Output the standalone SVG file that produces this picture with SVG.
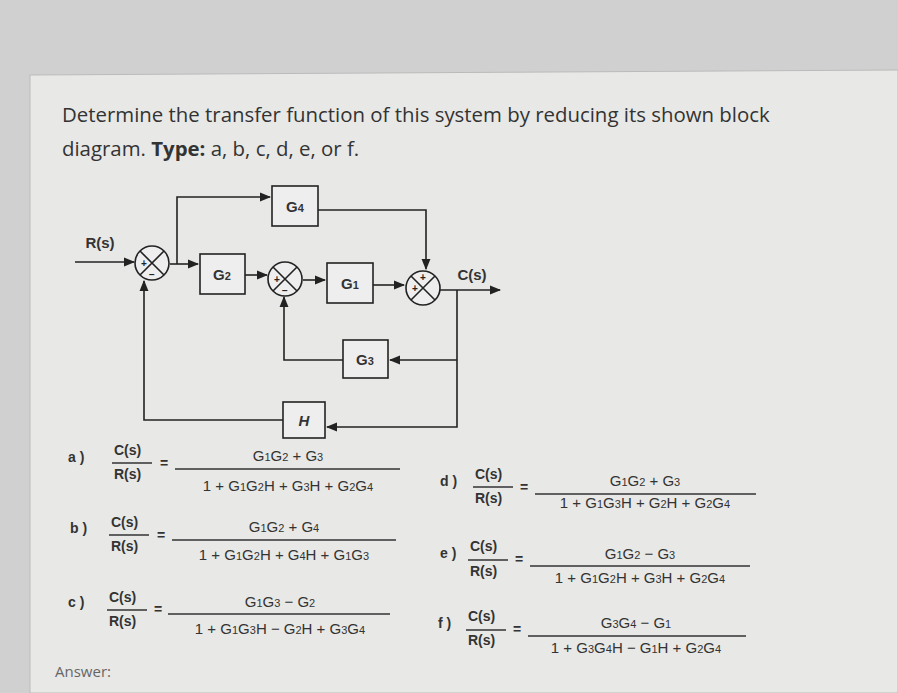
<svg xmlns="http://www.w3.org/2000/svg" width="898" height="693" viewBox="0 0 898 693">
<defs>
<marker id="ar" viewBox="0 0 10 10" refX="9" refY="5" markerWidth="7" markerHeight="7" orient="auto"><path d="M0,1 L10,5 L0,9 z" fill="#222"/></marker>
</defs>
<style>
.t{font-family:"Open Sans",sans-serif;font-size:20.4px;fill:#333}
.f{font-family:"Liberation Sans",Arial,sans-serif;font-size:14px;font-weight:bold;fill:#333}
.m{font-family:"Liberation Sans",Arial,sans-serif;font-size:15px;fill:#333;text-anchor:middle}
.s{font-size:11px}
.b{fill:#eee;stroke:#222;stroke-width:1.6}
.l{fill:none;stroke:#222;stroke-width:1.6}
.bl{font-family:"Liberation Sans",Arial,sans-serif;font-size:15px;font-weight:bold;fill:#333;text-anchor:middle}
.fb{stroke:#333;stroke-width:1.5}
.sg{font-family:"Liberation Sans",Arial,sans-serif;font-size:10px;font-weight:bold;fill:#222;text-anchor:middle}
</style>
<rect width="898" height="693" fill="#cfd0cf"/>
<path d="M30,75 L898,70 L898,693 L30,693 z" fill="#e8e8e6" stroke="#bbb"/>
<text class="t" x="62" y="122">Determine the transfer function of this system by reducing its shown block</text>
<text class="t" x="62" y="156">diagram. <tspan font-weight="bold">Type:</tspan> a, b, c, d, e, or f.</text>

<g id="connectors">
<path class="l" d="M75,262 H134" marker-end="url(#ar)"/>
<path class="l" d="M170,264 H198" marker-end="url(#ar)"/>
<path class="l" d="M177,264 V197 H270" marker-end="url(#ar)"/>
<path class="l" d="M318,210 H426 V269" marker-end="url(#ar)"/>
<path class="l" d="M245,275 H267" marker-end="url(#ar)"/>
<path class="l" d="M303,280 H325" marker-end="url(#ar)"/>
<path class="l" d="M373,285 H404" marker-end="url(#ar)"/>
<path class="l" d="M440,290 H500" marker-end="url(#ar)"/>
<path class="l" d="M457,290 V427 H327" marker-end="url(#ar)"/>
<path class="l" d="M457,360 H390" marker-end="url(#ar)"/>
<path class="l" d="M343,360 H284 V297" marker-end="url(#ar)"/>
<path class="l" d="M283,420 H144 V281" marker-end="url(#ar)"/>
</g>

<g id="R"><text class="bl" x="100" y="248">R(s)</text></g>
<g id="C"><text class="bl" x="472" y="280">C(s)</text></g>
<g id="sum1"><circle class="b" cx="152" cy="263" r="17"/><path class="l" d="M140,251 L164,275 M164,251 L140,275"/><text class="sg" x="144" y="267">+</text><text class="sg" x="152" y="278">−</text></g>
<g id="sum2"><circle class="b" cx="285" cy="279" r="17"/><path class="l" d="M273,267 L297,291 M297,267 L273,291"/><text class="sg" x="277" y="283">+</text><text class="sg" x="285" y="294">−</text></g>
<g id="sum3"><circle class="b" cx="423" cy="288" r="17"/><path class="l" d="M411,276 L435,300 M435,276 L411,300"/><text class="sg" x="423" y="281">+</text><text class="sg" x="415" y="292">+</text></g>
<g id="G2"><rect class="b" x="200" y="254" width="45" height="40"/><text class="bl" x="222" y="280">G<tspan class="s">2</tspan></text></g>
<g id="G1"><rect class="b" x="327" y="263" width="46" height="40"/><text class="bl" x="350" y="289">G<tspan class="s">1</tspan></text></g>
<g id="G4"><rect class="b" x="272" y="186" width="46" height="40"/><text class="bl" x="295" y="212">G<tspan class="s">4</tspan></text></g>
<g id="G3"><rect class="b" x="343" y="340" width="45" height="38"/><text class="bl" x="365" y="365">G<tspan class="s">3</tspan></text></g>
<g id="H"><rect class="b" x="283" y="402" width="42" height="36"/><text class="bl" x="304" y="426" font-style="italic">H</text></g>

<g id="a"><text class="f" x="68" y="462">a )</text><text class="f" x="114" y="455">C(s)</text><line class="fb" x1="112" y1="463" x2="152" y2="463"/><text class="f" x="114" y="479">R(s)</text><text class="f" x="160" y="468">=</text>
<text class="m" x="288" y="461">G<tspan class="s">1</tspan>G<tspan class="s">2</tspan> + G<tspan class="s">3</tspan></text><line class="fb" x1="175" y1="469" x2="400" y2="469"/><text class="m" x="288" y="491">1 + G<tspan class="s">1</tspan>G<tspan class="s">2</tspan>H + G<tspan class="s">3</tspan>H + G<tspan class="s">2</tspan>G<tspan class="s">4</tspan></text></g>
<g id="b"><text class="f" x="70" y="533">b )</text><text class="f" x="111" y="527">C(s)</text><line class="fb" x1="109" y1="535" x2="149" y2="535"/><text class="f" x="111" y="551">R(s)</text><text class="f" x="157" y="540">=</text>
<text class="m" x="284" y="532">G<tspan class="s">1</tspan>G<tspan class="s">2</tspan> + G<tspan class="s">4</tspan></text><line class="fb" x1="172" y1="540" x2="396" y2="540"/><text class="m" x="284" y="560">1 + G<tspan class="s">1</tspan>G<tspan class="s">2</tspan>H + G<tspan class="s">4</tspan>H + G<tspan class="s">1</tspan>G<tspan class="s">3</tspan></text></g>
<g id="c"><text class="f" x="68" y="607">c )</text><text class="f" x="109" y="602">C(s)</text><line class="fb" x1="107" y1="610" x2="147" y2="610"/><text class="f" x="109" y="626">R(s)</text><text class="f" x="154" y="614">=</text>
<text class="m" x="280" y="607">G<tspan class="s">1</tspan>G<tspan class="s">3</tspan> − G<tspan class="s">2</tspan></text><line class="fb" x1="168" y1="614" x2="390" y2="614"/><text class="m" x="280" y="634">1 + G<tspan class="s">1</tspan>G<tspan class="s">3</tspan>H − G<tspan class="s">2</tspan>H + G<tspan class="s">3</tspan>G<tspan class="s">4</tspan></text></g>
<g id="d"><text class="f" x="440" y="486">d )</text><text class="f" x="475" y="479">C(s)</text><line class="fb" x1="473" y1="487" x2="513" y2="487"/><text class="f" x="475" y="503">R(s)</text><text class="f" x="520" y="492">=</text>
<text class="m" x="645" y="486">G<tspan class="s">1</tspan>G<tspan class="s">2</tspan> + G<tspan class="s">3</tspan></text><line class="fb" x1="535" y1="494" x2="756" y2="494"/><text class="m" x="645" y="508">1 + G<tspan class="s">1</tspan>G<tspan class="s">3</tspan>H + G<tspan class="s">2</tspan>H + G<tspan class="s">2</tspan>G<tspan class="s">4</tspan></text></g>
<g id="e"><text class="f" x="440" y="558">e )</text><text class="f" x="470" y="551">C(s)</text><line class="fb" x1="468" y1="560" x2="508" y2="560"/><text class="f" x="470" y="576">R(s)</text><text class="f" x="515" y="564">=</text>
<text class="m" x="640" y="559">G<tspan class="s">1</tspan>G<tspan class="s">2</tspan> − G<tspan class="s">3</tspan></text><line class="fb" x1="530" y1="566" x2="750" y2="566"/><text class="m" x="640" y="583">1 + G<tspan class="s">1</tspan>G<tspan class="s">2</tspan>H + G<tspan class="s">3</tspan>H + G<tspan class="s">2</tspan>G<tspan class="s">4</tspan></text></g>
<g id="f"><text class="f" x="438" y="628">f )</text><text class="f" x="468" y="621">C(s)</text><line class="fb" x1="466" y1="630" x2="506" y2="630"/><text class="f" x="468" y="645">R(s)</text><text class="f" x="513" y="634">=</text>
<text class="m" x="636" y="628">G<tspan class="s">3</tspan>G<tspan class="s">4</tspan> − G<tspan class="s">1</tspan></text><line class="fb" x1="528" y1="636" x2="746" y2="636"/><text class="m" x="636" y="653">1 + G<tspan class="s">3</tspan>G<tspan class="s">4</tspan>H − G<tspan class="s">1</tspan>H + G<tspan class="s">2</tspan>G<tspan class="s">4</tspan></text></g>
<text x="55" y="677" font-family="Open Sans,sans-serif" font-size="15" fill="#666">Answer:</text>
</svg>
